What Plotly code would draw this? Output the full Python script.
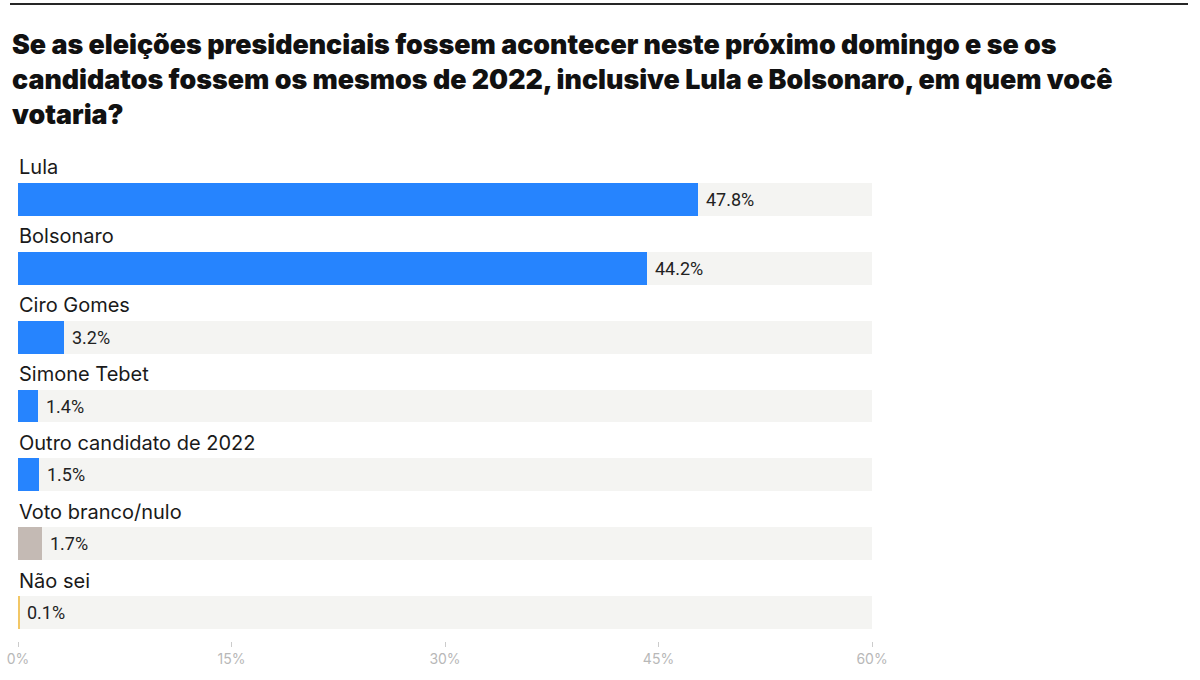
import plotly.graph_objects as go

categories = ["Lula", "Bolsonaro", "Ciro Gomes", "Simone Tebet",
              "Outro candidato de 2022", "Voto branco/nulo", "Não sei"]
values = [47.8, 44.2, 3.2, 1.4, 1.5, 1.7, 0.1]
value_labels = ["47.8%", "44.2%", "3.2%", "1.4%", "1.5%", "1.7%", "0.1%"]
colors = ["#2684fe", "#2684fe", "#2684fe", "#2684fe", "#2684fe", "#c4bab4", "#f2c766"]
axis_max = 60
tick_vals = [0, 15, 30, 45, 60]
tick_text = ["0%", "15%", "30%", "45%", "60%"]
title_text = ("Se as eleições presidenciais fossem acontecer neste próximo domingo e se os<br>"
              "candidatos fossem os mesmos de 2022, inclusive Lula e Bolsonaro, em quem você<br>"
              "votaria?")

ypos = list(range(len(categories)))

fig = go.Figure()
fig.add_trace(go.Bar(
    x=[axis_max] * len(categories), y=ypos, orientation="h",
    marker=dict(color="#f4f4f2", line=dict(width=0)),
    width=0.479, hoverinfo="skip", showlegend=False,
))
fig.add_trace(go.Bar(
    x=values, y=ypos, orientation="h",
    marker=dict(color=colors, line=dict(width=0)),
    width=0.479, showlegend=False,
    hovertemplate="%{x}%<extra></extra>",
))

for i, (cat, v, lab) in enumerate(zip(categories, values, value_labels)):
    fig.add_annotation(x=0, y=i, text=cat, xref="x", yref="y",
                       xanchor="left", yanchor="middle", yshift=32, xshift=-1,
                       showarrow=False,
                       font=dict(family="Inter, Roboto, sans-serif", size=20, color="#1a1a1a"))
    fig.add_annotation(x=v, y=i, text=lab, xref="x", yref="y",
                       xanchor="left", yanchor="middle", xshift=6,
                       showarrow=False,
                       font=dict(family="Roboto, Inter, sans-serif", size=18, color="#222222"))

# top rule
top_y = (641 - 4) / 491
fig.add_shape(type="line", xref="paper", yref="paper", layer="above",
              x0=(10 - 18) / 854, x1=(1188 - 18) / 854,
              y0=top_y, y1=top_y,
              line=dict(color="#262626", width=1.8))

fig.update_layout(
    width=1200, height=680,
    margin=dict(l=18, r=328, t=150, b=39, autoexpand=False),
    paper_bgcolor="white", plot_bgcolor="white",
    barmode="overlay", bargap=0,
    title=dict(text=title_text, x=12 / 1200, xref="container", xanchor="left",
               y=1 - 54 / 680, yref="container", yanchor="top",
               font=dict(family="Inter, sans-serif", size=26.8, color="#111111",
                         weight=900)),
    xaxis=dict(range=[0, axis_max], tickvals=tick_vals, ticktext=tick_text,
               showgrid=False, zeroline=False, showline=False, automargin=False,
               ticks="outside", ticklen=5, tickcolor="#cccccc", tickwidth=1,
               tickfont=dict(family="Inter, sans-serif", size=14, color="#b8b8b8"),
               fixedrange=True),
    yaxis=dict(range=[6.414, -0.719], showticklabels=False, showgrid=False,
               zeroline=False, showline=False, fixedrange=True, automargin=False),
)

fig.write_html("out.html")
